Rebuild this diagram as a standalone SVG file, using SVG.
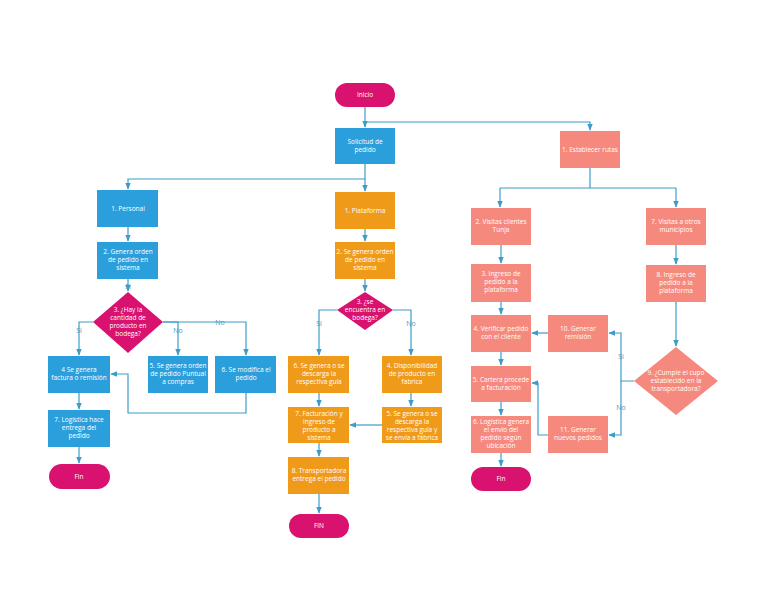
<svg xmlns="http://www.w3.org/2000/svg" width="768" height="594" viewBox="0 0 768 594">
<defs>
<marker id="a" viewBox="0 0 10 10" refX="9" refY="5" markerWidth="6" markerHeight="6" orient="auto"><path d="M0,1 L10,5 L0,9 z" fill="#3d9cc8"/></marker>
<style>
.b{fill:#2a9fdc}.o{fill:#f09a1a}.p{fill:#f6897e}.m{fill:#d8126e}
text{font-family:"Open Sans","Liberation Sans",sans-serif;font-size:6.5px;fill:#fff;text-anchor:middle}
.l{fill:#4a9ac0;font-size:7px}
#c path{fill:none;stroke:#3d9cc8;stroke-width:1.2}
</style>
</defs>
<rect width="768" height="594" fill="#fff"/>
<g id="c">
<path d="M365,107 V127" marker-end="url(#a)"/>
<path d="M365,122 H590 V130" marker-end="url(#a)"/>
<path d="M365,164 V191" marker-end="url(#a)"/>
<path d="M365,179 H128 V189" marker-end="url(#a)"/>
<path d="M128,227 V241" marker-end="url(#a)"/>
<path d="M365,229 V241" marker-end="url(#a)"/>
<path d="M128,279 V291" marker-end="url(#a)"/>
<path d="M93,322 H79 V355" marker-end="url(#a)"/>
<path d="M163,322 H178 V355" marker-end="url(#a)"/>
<path d="M163,322 H246 V355" marker-end="url(#a)"/>
<path d="M246,393 V413 H128 V374 H111" marker-end="url(#a)"/>
<path d="M79,393 V409" marker-end="url(#a)"/>
<path d="M79,447 V463" marker-end="url(#a)"/>
<path d="M365,279 V291" marker-end="url(#a)"/>
<path d="M337,310 H319 V355" marker-end="url(#a)"/>
<path d="M393,310 H411 V355" marker-end="url(#a)"/>
<path d="M411,393 V406" marker-end="url(#a)"/>
<path d="M382,425 H350" marker-end="url(#a)"/>
<path d="M319,393 V406" marker-end="url(#a)"/>
<path d="M319,443 V456" marker-end="url(#a)"/>
<path d="M319,494 V513" marker-end="url(#a)"/>
<path d="M590,168 V188 M500,188 H676"/>
<path d="M500,188 V207" marker-end="url(#a)"/>
<path d="M676,188 V207" marker-end="url(#a)"/>
<path d="M501,245 V263" marker-end="url(#a)"/>
<path d="M676,245 V264" marker-end="url(#a)"/>
<path d="M501,302 V314" marker-end="url(#a)"/>
<path d="M676,302 V346" marker-end="url(#a)"/>
<path d="M501,352 V365" marker-end="url(#a)"/>
<path d="M501,402 V415" marker-end="url(#a)"/>
<path d="M501,453 V466" marker-end="url(#a)"/>
<path d="M634,381 H621 V333 H609" marker-end="url(#a)"/>
<path d="M621,381 V435 H609" marker-end="url(#a)"/>
<path d="M548,333 H532" marker-end="url(#a)"/>
<path d="M548,435 H538 V383 H532" marker-end="url(#a)"/>
</g>
<g id="labels">
<text class="l" x="128" y="289">Si</text>
<text class="l" x="79" y="333">Si</text>
<text class="l" x="178" y="333">No</text>
<text class="l" x="220" y="325">No</text>
<text class="l" x="319" y="326">Si</text>
<text class="l" x="411" y="326">No</text>
<text class="l" x="621" y="359">Si</text>
<text class="l" x="621" y="410">No</text>
</g>
<g id="inicio"><rect class="m" x="335" y="83" width="60" height="24" rx="12"/><text x="365" y="97">Inicio</text></g>
<g id="solicitud"><rect class="b" x="335" y="128" width="60" height="36"/><text x="365" y="144">Solicitud de</text><text x="365" y="152">pedido</text></g>
<g id="personal"><rect class="b" x="97" y="190" width="61" height="37"/><text x="128" y="211">1. Personal</text></g>
<g id="b2"><rect class="b" x="97" y="242" width="61" height="37"/><text x="128" y="254">2. Genera orden</text><text x="128" y="262">de pedido en</text><text x="128" y="270">sistema</text></g>
<g id="b3"><path class="m" d="M128,292 L163,322 L128,353 L93,322 Z"/><text x="128" y="312">3. ¿Hay la</text><text x="128" y="320">cantidad de</text><text x="128" y="328">producto en</text><text x="128" y="336">bodega?</text></g>
<g id="b4"><rect class="b" x="48" y="356" width="62" height="37"/><text x="79" y="372">4 Se genera</text><text x="79" y="380">factura o remisión</text></g>
<g id="b5"><rect class="b" x="148" y="356" width="60" height="37"/><text x="178" y="368">5. Se genera orden</text><text x="178" y="376">de pedido Puntual</text><text x="178" y="384">a compras</text></g>
<g id="b6"><rect class="b" x="215" y="356" width="61" height="37"/><text x="246" y="372">6. Se modifica el</text><text x="246" y="380">pedido</text></g>
<g id="b7"><rect class="b" x="48" y="410" width="62" height="37"/><text x="79" y="422">7. Logística hace</text><text x="79" y="430">entrega del</text><text x="79" y="438">pedido</text></g>
<g id="bfin"><rect class="m" x="49" y="464" width="61" height="25" rx="12.5"/><text x="79" y="479">Fin</text></g>
<g id="o1"><rect class="o" x="335" y="192" width="60" height="37"/><text x="365" y="213">1. Plataforma</text></g>
<g id="o2"><rect class="o" x="335" y="242" width="60" height="37"/><text x="365" y="254">2. Se genera orden</text><text x="365" y="262">de pedido en</text><text x="365" y="270">sistema</text></g>
<g id="o3"><path class="m" d="M365,292 L393,310 L365,330 L337,310 Z"/><text x="365" y="304">3. ¿se</text><text x="365" y="312">encuentra en</text><text x="365" y="320">bodega?</text></g>
<g id="o6"><rect class="o" x="288" y="356" width="61" height="37"/><text x="319" y="368">6. Se genera o se</text><text x="319" y="376">descarga la</text><text x="319" y="384">respectiva guía</text></g>
<g id="o4"><rect class="o" x="382" y="356" width="60" height="37"/><text x="412" y="368">4. Disponibilidad</text><text x="412" y="376">de producto en</text><text x="412" y="384">fabrica</text></g>
<g id="o7"><rect class="o" x="288" y="407" width="61" height="36"/><text x="319" y="416">7. Facturación y</text><text x="319" y="424">ingreso de</text><text x="319" y="432">producto a</text><text x="319" y="440">sistema</text></g>
<g id="o5"><rect class="o" x="382" y="407" width="60" height="36"/><text x="412" y="416">5. Se genera o se</text><text x="412" y="424">descarga la</text><text x="412" y="432">respectiva guía y</text><text x="412" y="440">se envía a fábrica</text></g>
<g id="o8"><rect class="o" x="288" y="457" width="61" height="37"/><text x="319" y="473">8. Transportadora</text><text x="319" y="481">entrega el pedido</text></g>
<g id="ofin"><rect class="m" x="289" y="514" width="60" height="24" rx="12"/><text x="319" y="528">FIN</text></g>
<g id="p1"><rect class="p" x="560" y="131" width="60" height="37"/><text x="590" y="152">1. Establecer rutas</text></g>
<g id="p2"><rect class="p" x="471" y="208" width="60" height="37"/><text x="501" y="224">2. Visitas clientes</text><text x="501" y="232">Tunja</text></g>
<g id="p7"><rect class="p" x="646" y="208" width="60" height="37"/><text x="676" y="224">7. Visitas a otros</text><text x="676" y="232">municipios</text></g>
<g id="p3"><rect class="p" x="471" y="264" width="60" height="38"/><text x="501" y="276">3. Ingreso de</text><text x="501" y="284">pedido a la</text><text x="501" y="292">plataforma</text></g>
<g id="p8"><rect class="p" x="646" y="265" width="60" height="37"/><text x="676" y="277">8. Ingreso de</text><text x="676" y="285">pedido a la</text><text x="676" y="293">plataforma</text></g>
<g id="p4"><rect class="p" x="471" y="315" width="60" height="37"/><text x="501" y="331">4. Verificar pedido</text><text x="501" y="339">con el cliente</text></g>
<g id="p10"><rect class="p" x="548" y="315" width="60" height="37"/><text x="578" y="331">10. Generar</text><text x="578" y="339">remisión</text></g>
<g id="p9"><path class="p" d="M676,347 L718,381 L676,415 L634,381 Z"/><text x="676" y="375">9. ¿Cumple el cupo</text><text x="676" y="383">establecido en la</text><text x="676" y="391">transportadora?</text></g>
<g id="p5"><rect class="p" x="471" y="366" width="60" height="36"/><text x="501" y="382">5. Cartera procede</text><text x="501" y="390">a facturación</text></g>
<g id="p6"><rect class="p" x="471" y="416" width="60" height="37"/><text x="501" y="424">6. Logística genera</text><text x="501" y="432">el envío del</text><text x="501" y="440">pedido según</text><text x="501" y="448">ubicación</text></g>
<g id="p11"><rect class="p" x="548" y="416" width="60" height="37"/><text x="578" y="432">11. Generar</text><text x="578" y="440">nuevos pedidos</text></g>
<g id="pfin"><rect class="m" x="471" y="467" width="60" height="24" rx="12"/><text x="501" y="481">Fin</text></g>
</svg>
